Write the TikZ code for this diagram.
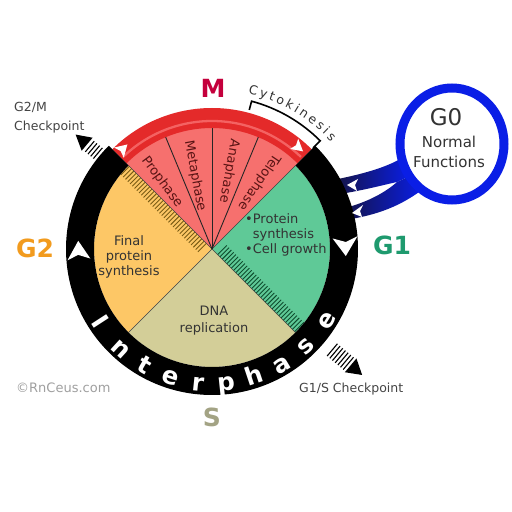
\documentclass[tikz,border=0pt]{standalone}
\usepackage{fontspec}
\setmainfont{DejaVu Sans}
\usetikzlibrary{decorations.text}
\definecolor{pinkM}{HTML}{F6706E}
\definecolor{redband}{HTML}{E42A2A}
\definecolor{redlight}{HTML}{F46262}
\definecolor{yel}{HTML}{FDC766}
\definecolor{dnatan}{HTML}{D3CE98}
\definecolor{grn}{HTML}{5FC997}
\definecolor{gzeroblue}{HTML}{0A1EE6}
\definecolor{navyb}{HTML}{14144A}
\definecolor{mcol}{HTML}{C4003C}
\definecolor{gonecol}{HTML}{1E9A6E}
\definecolor{gtwocol}{HTML}{F29B1E}
\definecolor{scol}{HTML}{A3A384}
\definecolor{phtext}{HTML}{5A1414}
\definecolor{txt}{HTML}{333333}
\definecolor{ckgray}{HTML}{444444}
\definecolor{copygray}{HTML}{A0A0A0}
\definecolor{hatchbrown}{HTML}{7A5C14}
\definecolor{hatchgreen}{HTML}{0E4D2E}
\begin{document}
\begin{tikzpicture}[x=1pt,y=1pt,
  hatchY/.style={draw=hatchbrown, line width=0.9},
  hatchG/.style={draw=hatchgreen, line width=0.9},
  divline/.style={draw=black!75, line width=0.6},
  mline/.style={draw=black!85, line width=0.9},
  lbl/.style={font=\fontsize{13}{15}\selectfont, text=txt, align=center, inner sep=0},
  titletext/.style={font=\fontsize{25}{30}\selectfont\bfseries, inner sep=0},
  phase/.style={font=\fontsize{13}{15}\selectfont, text=phtext, inner sep=0},
  ilet/.style={font=\fontsize{24.5}{28}\selectfont\bfseries, text=white, inner sep=0, anchor=base},
  ckpt/.style={font=\fontsize{12.5}{18.5}\selectfont, text=ckgray, align=left, inner sep=0, anchor=west},
  whitearrow/.style={fill=white},
  stripe/.style={draw=black, line width=1.1}
]
\fill[white] (0,0) rectangle (512,512);
\useasboundingbox (0,0) rectangle (512,512);

% connectors G0 -> ring
\shade[left color=navyb, right color=gzeroblue] (338,333) .. controls (362,338) and (385,344) .. (402,354) -- (410,336) -- (397,330) .. controls (383,327) and (365,322) .. (340,318) -- cycle;
\shade[left color=navyb, right color=gzeroblue] (345,304) .. controls (368,310) and (386,320) .. (397,330) -- (410,336) -- (422,322) .. controls (400,306) and (378,297) .. (345,292) -- cycle;
\draw[gzeroblue, line width=9] (452,368) ellipse[x radius=52, y radius=56];

\begin{scope}[shift={(212,263)}]
  % sectors
  \fill[yel] (0,0) -- (135:118) arc[start angle=135, end angle=225, radius=118] -- cycle;
  \fill[dnatan] (0,0) -- (225:118) arc[start angle=225, end angle=315, radius=118] -- cycle;
  \fill[grn] (0,0) -- (-45:118) arc[start angle=-45, end angle=45, radius=118] -- cycle;
  \fill[pinkM] (0,0) -- (45:122) arc[start angle=45, end angle=135, radius=122] -- cycle;
  % hatching
  \begin{scope}
    \clip (0,0) -- (135:118) arc[start angle=135, end angle=225, radius=118] -- cycle;
    \foreach \r in {8,11.2,...,120} \draw[hatchY] (135:\r) -- ++(225:12);
  \end{scope}
  \begin{scope}
    \clip (0,0) -- (-45:118) arc[start angle=-45, end angle=45, radius=118] -- cycle;
    \foreach \r in {8,11.2,...,120} \draw[hatchG] (-45:\r) -- ++(45:13);
  \end{scope}
  % dividers
  \draw[divline] (0,0) -- (225:118);
  \draw[divline] (0,0) -- (-45:118);
  \draw[divline] (0,0) -- (135:118);
  \draw[divline] (0,0) -- (45:118);
  \foreach \a in {67.5,90,112.5} \draw[mline] (0,0) -- (\a:122);
  % red band
  \fill[redband] (45:121) arc[start angle=45, end angle=135, radius=121] -- (135:141) arc[start angle=135, end angle=45, radius=141] -- cycle;
  \draw[redlight, line width=2.3] (46:128) arc[start angle=46, end angle=134, radius=128];
  % black ring
  \fill[black] (45:118) arc[start angle=45, end angle=-225, radius=118] -- (135:146) arc[start angle=135, end angle=405, radius=146] -- cycle;
  % white arrows
  \fill[whitearrow] (184.5:122) -- (176.5:134) -- (184.5:145) -- (182.5:134) -- cycle;
  \fill[whitearrow] (5:121) -- (-3:134) -- (5:146) -- (3:134) -- cycle;
  \fill[whitearrow] (134:127) -- (129:134.5) -- (134:141) -- (133:134) -- cycle;
  \fill[whitearrow] (52:127) -- (47:133.5) -- (52:140) -- (51:133.5) -- cycle;
  % interphase letters
  \foreach \a/\ch in {213/I,227.5/n,240/t,252/e,264/r,276/p,288.5/h,301/a,314/s,328/e}
    \node[ilet, rotate={\a+90}] (il\a) at (\a:142.5) {\ch};
  % cytokinesis
  \path[decorate, decoration={text along path, text={|\fontsize{12.5}{15}\selectfont\color{txt}|Cytokinesis}, text align=fit to path}] (77:160) arc[start angle=77, end angle=42, radius=160];
  \draw[line width=1.6] (75:144) -- (75:153) arc[start angle=75, end angle=45, radius=153] -- (45:143);
\end{scope}

% checkpoints
\begin{scope}[shift={(212,263)}, rotate=140]
  \foreach \r in {149,152.5,156,159.5} \draw[stripe] (\r,-7) -- (\r,7);
  \fill[black] (163,-8.5) -- (178,0) -- (163,8.5) -- cycle;
\end{scope}
\begin{scope}[shift={(212,263)}, rotate=-40]
  \foreach \r in {157,160.5,...,178} \draw[stripe] (\r,-8) -- (\r,8);
  \fill[black] (181,-9) -- (196,0) -- (181,9) -- cycle;
\end{scope}

% white arrows on connectors
\fill[whitearrow] (347,327) -- (358,333) -- (355,327) -- (357,321) -- cycle;
\fill[whitearrow] (352,299) -- (363,307) -- (360,301) -- (362,295) -- cycle;

% phase labels
\node[phase, rotate=-53.4] (pro) at (162,330) {Prophase};
\node[phase, rotate=-79.5] (meta) at (195,336) {Metaphase};
\node[phase, rotate=-100] (ana) at (229,341) {Anaphase};
\node[phase, rotate=-124] (telo) at (259,330) {Telophase};

% sector labels
\node[lbl] (fps) at (129,255) {Final\\protein\\synthesis};
\node[lbl, font=\fontsize{13}{17}\selectfont] (dna) at (214,191) {DNA\\replication};
\node[lbl, align=left, anchor=west] (g1txt) at (245,277) {•Protein\\\phantom{•}synthesis\\•Cell growth};

% titles
\node[titletext, text=mcol] (mt) at (213,424) {M};
\node[titletext, text=gonecol] (g1t) at (392,267) {G1};
\node[titletext, text=gtwocol] (g2t) at (35,264) {G2};
\node[titletext, text=scol] (st) at (212,95) {S};

% G0 text
\node[inner sep=0, text=txt, font=\fontsize{23}{27}\selectfont] (g0t) at (446,395) {G0};
\node[inner sep=0, text=txt, font=\fontsize{15}{18}\selectfont] (g0n) at (449,370) {Normal};
\node[inner sep=0, text=txt, font=\fontsize{15}{18}\selectfont] (g0f) at (449,350) {Functions};

% checkpoint labels
\node[ckpt] (g2m) at (14,394.5) {G2/M\\Checkpoint};
\node[ckpt] (g1s) at (299,123) {G1/S Checkpoint};
\node[ckpt, text=copygray, font=\fontsize{13}{15}\selectfont] (copy) at (16,124) {©RnCeus.com};
\end{tikzpicture}
\end{document}
